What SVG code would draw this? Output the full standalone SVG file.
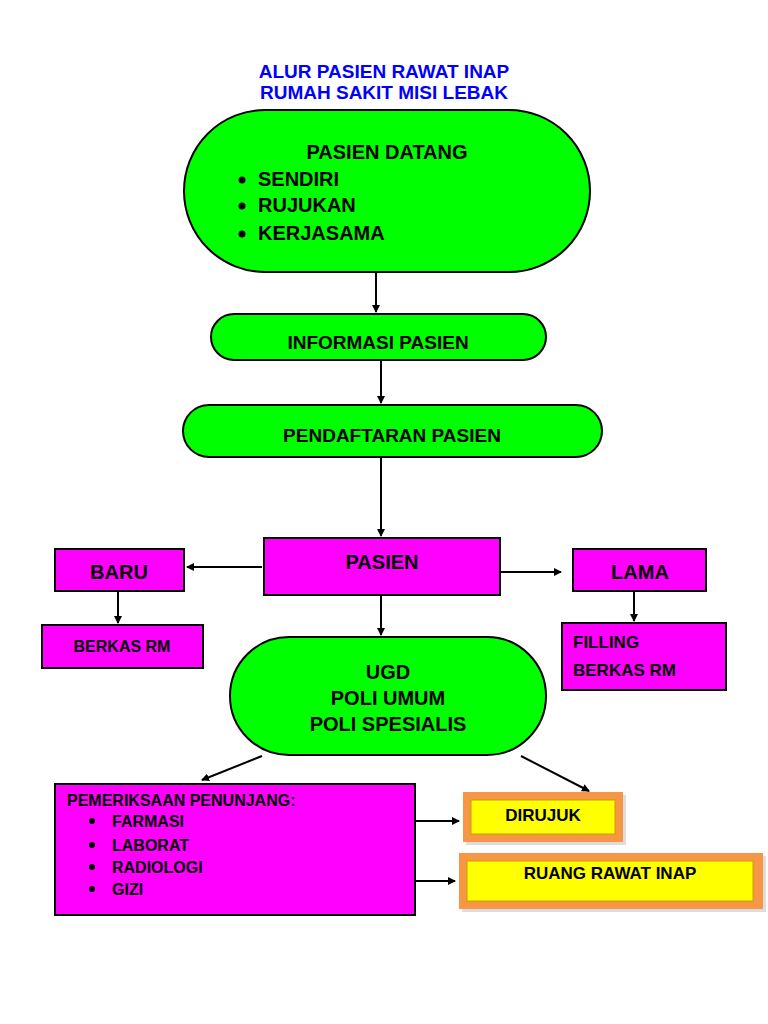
<svg xmlns="http://www.w3.org/2000/svg" width="768" height="1024" viewBox="0 0 768 1024">
<style>
text{font-family:"Liberation Sans",Arial,sans-serif;font-weight:bold;fill:#000}
.g{fill:#00ff00;stroke:#000;stroke-width:2}
.m{fill:#ff00ff;stroke:#000;stroke-width:2}
.c line{stroke:#000;stroke-width:2;marker-end:url(#a)}
</style>
<defs><marker id="a" markerWidth="8" markerHeight="8" refX="7" refY="4" orient="auto" markerUnits="userSpaceOnUse"><path d="M0,0L8,4L0,8z" fill="#000"/></marker></defs>
<rect width="768" height="1024" fill="#fff"/>
<g id="title"><text x="384" y="78" text-anchor="middle" font-size="19" style="fill:#0000ff">ALUR PASIEN RAWAT INAP</text><text x="384" y="99" text-anchor="middle" font-size="19" style="fill:#0000ff">RUMAH SAKIT MISI LEBAK</text></g>
<g id="datang"><rect class="g" x="184" y="110" width="406" height="162" rx="81"/><text x="387" y="159" text-anchor="middle" font-size="20">PASIEN DATANG</text>
<circle cx="242" cy="180" r="3.5"/><circle cx="242" cy="206" r="3.5"/><circle cx="242" cy="234" r="3.5"/>
<text x="258" y="186" font-size="20">SENDIRI</text><text x="258" y="212" font-size="20">RUJUKAN</text><text x="258" y="240" font-size="20">KERJASAMA</text></g>
<g id="info"><rect class="g" x="211" y="314" width="335" height="46" rx="23"/><text x="378" y="349" text-anchor="middle" font-size="19">INFORMASI PASIEN</text></g>
<g id="daftar"><rect class="g" x="183" y="405" width="419" height="52" rx="26"/><text x="392" y="442" text-anchor="middle" font-size="19">PENDAFTARAN PASIEN</text></g>
<g id="pasien"><rect class="m" x="264" y="538" width="236" height="57"/><text x="382" y="569" text-anchor="middle" font-size="20">PASIEN</text></g>
<g id="baru"><rect class="m" x="55" y="549" width="129" height="42"/><text x="119" y="579" text-anchor="middle" font-size="20">BARU</text></g>
<g id="lama"><rect class="m" x="573" y="549" width="133" height="42"/><text x="640" y="579" text-anchor="middle" font-size="20">LAMA</text></g>
<g id="berkas"><rect class="m" x="42" y="625" width="161" height="43"/><text x="122" y="652" text-anchor="middle" font-size="16">BERKAS RM</text></g>
<g id="filling"><rect class="m" x="562" y="623" width="164" height="67"/><text x="573" y="648" font-size="17">FILLING</text><text x="573" y="676" font-size="17">BERKAS RM</text></g>
<g id="ugd"><rect class="g" x="230" y="637" width="316" height="118" rx="59"/><text x="388" y="679" text-anchor="middle" font-size="20">UGD</text><text x="388" y="705" text-anchor="middle" font-size="20">POLI UMUM</text><text x="388" y="731" text-anchor="middle" font-size="20">POLI SPESIALIS</text></g>
<g id="penunjang"><rect class="m" x="55" y="784" width="360" height="131"/><text x="67" y="806" font-size="16">PEMERIKSAAN PENUNJANG:</text>
<circle cx="92" cy="821" r="3"/><circle cx="92" cy="845" r="3"/><circle cx="92" cy="867" r="3"/><circle cx="92" cy="889" r="3"/>
<text x="112" y="827" font-size="16">FARMASI</text><text x="112" y="851" font-size="16">LABORAT</text><text x="112" y="873" font-size="16">RADIOLOGI</text><text x="112" y="895" font-size="16">GIZI</text></g>
<g id="dirujuk"><rect x="466" y="795" width="160" height="50" fill="#ddd"/><rect x="463" y="792" width="160" height="50" fill="#f79646"/><rect x="471" y="800" width="144" height="34" fill="#ffff00" stroke="#c8a000" stroke-width="1"/><text x="543" y="821" text-anchor="middle" font-size="17">DIRUJUK</text></g>
<g id="ruang"><rect x="462" y="856" width="304" height="56" fill="#ddd"/><rect x="459" y="853" width="304" height="56" fill="#f79646"/><rect x="467" y="861" width="286" height="40" fill="#ffff00" stroke="#c8a000" stroke-width="1"/><text x="610" y="879" text-anchor="middle" font-size="17">RUANG RAWAT INAP</text></g>
<g class="c" id="connectors">
<line x1="376" y1="272" x2="376" y2="312"/>
<line x1="381" y1="360" x2="381" y2="403"/>
<line x1="381" y1="458" x2="381" y2="536"/>
<line x1="262" y1="567" x2="187" y2="567"/>
<line x1="500" y1="572" x2="561" y2="572"/>
<line x1="118" y1="592" x2="118" y2="623"/>
<line x1="634" y1="592" x2="634" y2="621"/>
<line x1="381" y1="596" x2="381" y2="635"/>
<line x1="262" y1="756" x2="202" y2="780"/>
<line x1="521" y1="756" x2="589" y2="791"/>
<line x1="416" y1="821" x2="459" y2="821"/>
<line x1="416" y1="881" x2="455" y2="881"/>
</g>
</svg>
